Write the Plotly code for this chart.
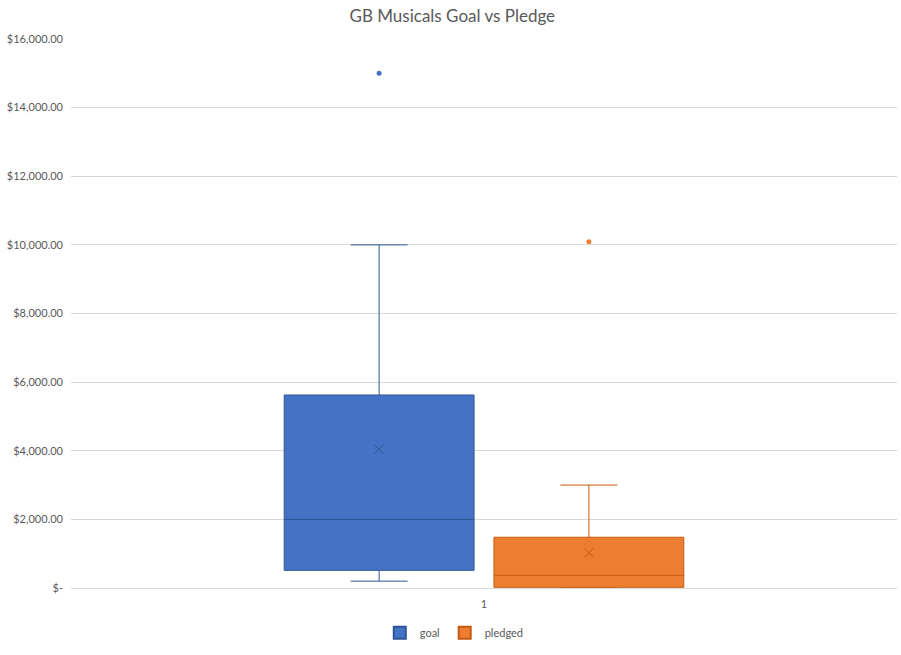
import plotly.graph_objects as go

category = ["1"]
series = ["goal", "pledged"]
colors = ["#4472C4", "#ED7D31"]
edge_colors = ["#2F5597", "#C55A11"]

q1 = [515, 20]
median = [2000, 370]
q3 = [5625, 1480]
lower = [200, 0]
upper = [10000, 3000]
mean = [4045, 1030]
outliers = [[15000], [10090]]

tick_vals = [0, 2000, 4000, 6000, 8000, 10000, 12000, 14000, 16000]
tick_text = ["$-", "$2,000.00", "$4,000.00", "$6,000.00", "$8,000.00",
             "$10,000.00", "$12,000.00", "$14,000.00", "$16,000.00"]

font = "Lato, Open Sans, sans-serif"

data = []
for i, name in enumerate(series):
    data.append(go.Box(
        name=name,
        x=category,
        y=[outliers[i]],
        q1=[q1[i]], median=[median[i]], q3=[q3[i]],
        lowerfence=[lower[i]], upperfence=[upper[i]],
        boxpoints="outliers", pointpos=0, jitter=0,
        whiskerwidth=0.3,
        offsetgroup=name,
        fillcolor=colors[i],
        line=dict(color=edge_colors[i], width=1),
        marker=dict(color=colors[i], size=5, line=dict(width=0)),
        hoverinfo="y",
    ))

# mean markers (the little x in each box)
for i, name in enumerate(series):
    data.append(go.Scatter(
        name=name + " mean",
        x=category,
        y=[mean[i]],
        mode="markers",
        offsetgroup=name,
        showlegend=False,
        marker=dict(symbol="x-thin-open", size=9, color=edge_colors[i],
                    line=dict(color=edge_colors[i], width=1)),
    ))

layout = go.Layout(
    width=901, height=655,
    paper_bgcolor="white", plot_bgcolor="white",
    font=dict(family=font, color="#595959", size=11),
    title=dict(text="GB Musicals Goal vs Pledge", x=0.502, xanchor="center",
               xref="container", yref="container",
               y=1 - 16 / 655, yanchor="middle",
               font=dict(size=17, color="#595959")),
    margin=dict(l=71, r=4, t=39, b=67, autoexpand=False),
    boxmode="group", boxgap=0.489, boxgroupgap=0.095,
    scattermode="group", scattergap=0.489,
    xaxis=dict(type="category", showgrid=False, showline=True,
               linecolor="#D9D9D9", ticks="outside", ticklen=6,
               tickcolor="rgba(0,0,0,0)", automargin=False),
    yaxis=dict(range=[0, 16000], tickvals=tick_vals, ticktext=tick_text,
               showgrid=True, gridcolor="#D9D9D9", zeroline=False,
               showline=False, ticks="", automargin=False,
               ticklabelstandoff=7),
    legend=dict(orientation="h", x=0.464, xanchor="center", y=-0.055,
                yanchor="top", font=dict(size=11), itemsizing="constant",
                itemwidth=30),
    showlegend=True,
)

fig = go.Figure(data=data, layout=layout)
# drop the default body margin so the figure fills the window
fig.write_html("out.html", config={"displayModeBar": False},
               post_script="document.body.style.margin='0px';")
